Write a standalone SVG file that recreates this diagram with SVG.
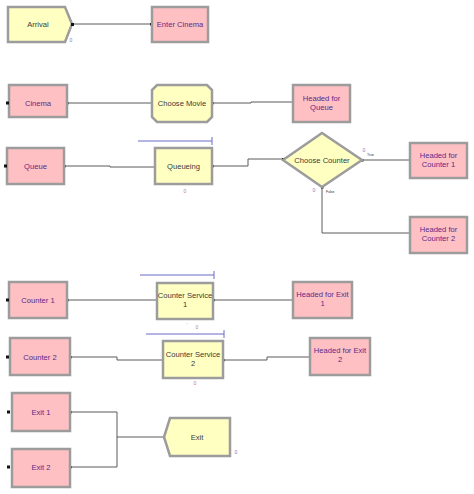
<svg xmlns="http://www.w3.org/2000/svg" width="474" height="494" viewBox="0 0 474 494">
<defs>
<style>
.pk{fill:#ffc0c4;stroke:#9c9c9c;stroke-width:2.5}
.yl{fill:#ffffc2;stroke:#9c9c9c;stroke-width:2.5}
.tp{font-family:"Liberation Sans",Arial,sans-serif;font-size:7.6px;fill:#5a2a86;text-anchor:middle}
.ty{font-family:"Liberation Sans",Arial,sans-serif;font-size:7.6px;fill:#3a3a3a;text-anchor:middle}
.cn{fill:none;stroke:#5a5a5a;stroke-width:1}
.qb{fill:none;stroke:#6a6ac8;stroke-width:1}
.dot{fill:#111}
.cnt{font-family:"Liberation Sans",Arial,sans-serif;font-size:5px;fill:#7a7ab8;text-anchor:middle}
.cq{font-family:"Liberation Sans",Arial,sans-serif;font-size:5px;fill:#c87878;text-anchor:middle}
.lb{font-family:"Liberation Sans",Arial,sans-serif;font-size:3.5px;fill:#333}
</style>
<marker id="sq" viewBox="0 0 4 4" refX="2" refY="2" markerWidth="3" markerHeight="3" markerUnits="userSpaceOnUse">
<rect width="4" height="4" fill="#111"/>
</marker>
</defs>
<rect width="474" height="494" fill="#ffffff"/>

<g id="connectors">
<path class="cn" d="M72,24 H151" marker-end="url(#sq)"/>
<path class="cn" d="M67,103 H152" marker-start="url(#sq)" marker-end="url(#sq)"/>
<path class="cn" d="M212,103 H251 V102 H293" marker-start="url(#sq)" marker-end="url(#sq)"/>
<path class="cn" d="M64,166 H110 V167 H155" marker-start="url(#sq)" marker-end="url(#sq)"/>
<path class="cn" d="M212,166 H248 V159 H283" marker-start="url(#sq)" marker-end="url(#sq)"/>
<path class="cn" d="M362,160 H410" marker-start="url(#sq)" marker-end="url(#sq)"/>
<path class="cn" d="M322,187 V233 H410" marker-start="url(#sq)" marker-end="url(#sq)"/>
<path class="cn" d="M67,300 H157" marker-start="url(#sq)" marker-end="url(#sq)"/>
<path class="cn" d="M213,300 H293" marker-start="url(#sq)" marker-end="url(#sq)"/>
<path class="cn" d="M70,357 H117 V360 H163" marker-start="url(#sq)" marker-end="url(#sq)"/>
<path class="cn" d="M223,360 H267 V357 H310" marker-start="url(#sq)" marker-end="url(#sq)"/>
<path class="cn" d="M70,412 H117 V437 H164" marker-start="url(#sq)" marker-end="url(#sq)"/>
<path class="cn" d="M70,467 H117 V437" marker-start="url(#sq)"/>
</g>

<g id="arrival">
<polygon class="yl" points="8,7 65,7 72,24 65,42 8,42"/>
<text class="ty" x="38" y="27">Arrival</text>
<rect class="dot" x="71" y="23" width="3" height="3"/>
<text class="cnt" x="71" y="42">0</text>
</g>
<g id="enter-cinema">
<rect class="pk" x="152" y="7" width="56" height="35"/>
<text class="tp" x="180" y="27">Enter Cinema</text>
</g>

<g id="cinema">
<rect class="pk" x="9" y="85" width="58" height="32"/>
<text class="tp" x="38" y="106">Cinema</text>
<rect class="dot" x="6" y="101.5" width="3" height="3"/>
</g>
<g id="choose-movie">
<polygon class="yl" points="157,85 207,85 212,90 212,117 207,122 157,122 152,117 152,90"/>
<text class="ty" x="182" y="106">Choose Movie</text>
</g>
<g id="headed-for-queue">
<rect class="pk" x="293" y="85" width="57" height="37"/>
<text class="tp" x="321.5" y="101">Headed for</text>
<text class="tp" x="321.5" y="110">Queue</text>
</g>

<g id="queue">
<rect class="pk" x="7" y="148" width="57" height="36"/>
<text class="tp" x="35.5" y="169">Queue</text>
<rect class="dot" x="4" y="164.5" width="3" height="3"/>
</g>
<g id="queueing">
<path class="qb" d="M138,141 H212 M212,137 V145"/>
<rect class="yl" x="155" y="148" width="57" height="36"/>
<text class="ty" x="183.5" y="169">Queueing</text>
<text class="cq" x="185" y="193">0</text>
</g>
<g id="choose-counter">
<polygon class="yl" points="283,160 322,133 362,160 322,187"/>
<text class="ty" x="322" y="163">Choose Counter</text>
<text class="cnt" x="364" y="152">0</text>
<text class="lb" x="367" y="156">True</text>
<text class="cnt" x="314" y="192">0</text>
<text class="lb" x="326" y="193">False</text>
</g>
<g id="headed-for-counter-1">
<rect class="pk" x="410" y="143" width="57" height="35"/>
<text class="tp" x="438.5" y="158">Headed for</text>
<text class="tp" x="438.5" y="167">Counter 1</text>
</g>
<g id="headed-for-counter-2">
<rect class="pk" x="410" y="217" width="57" height="36"/>
<text class="tp" x="438.5" y="232">Headed for</text>
<text class="tp" x="438.5" y="241">Counter 2</text>
</g>

<g id="counter-1">
<rect class="pk" x="9" y="282" width="58" height="36"/>
<text class="tp" x="38" y="303">Counter 1</text>
<rect class="dot" x="6" y="298.5" width="3" height="3"/>
</g>
<g id="counter-service-1">
<path class="qb" d="M140,275 H214 M214,271 V279"/>
<rect class="yl" x="157" y="283" width="56" height="36"/>
<text class="ty" x="185" y="298">Counter Service</text>
<text class="ty" x="185" y="307">1</text>
<text class="cq" x="187" y="327">'</text>
<text class="cq" x="197" y="329">0</text>
</g>
<g id="headed-for-exit-1">
<rect class="pk" x="293" y="282" width="59" height="36"/>
<text class="tp" x="322.5" y="297">Headed for Exit</text>
<text class="tp" x="322.5" y="306">1</text>
</g>

<g id="counter-2">
<rect class="pk" x="10" y="338" width="60" height="37"/>
<text class="tp" x="40" y="360">Counter 2</text>
<rect class="dot" x="6" y="355.5" width="3" height="3"/>
</g>
<g id="counter-service-2">
<path class="qb" d="M146,334 H224 M224,330 V338"/>
<rect class="yl" x="163" y="341" width="60" height="37"/>
<text class="ty" x="193" y="357">Counter Service</text>
<text class="ty" x="193" y="366">2</text>
<text class="cq" x="195" y="385">0</text>
</g>
<g id="headed-for-exit-2">
<rect class="pk" x="310" y="338" width="60" height="37"/>
<text class="tp" x="340" y="353">Headed for Exit</text>
<text class="tp" x="340" y="362">2</text>
</g>

<g id="exit-1">
<rect class="pk" x="12" y="393" width="58" height="38"/>
<text class="tp" x="41" y="415">Exit 1</text>
<rect class="dot" x="7" y="410.5" width="3" height="3"/>
</g>
<g id="exit-2">
<rect class="pk" x="12" y="449" width="58" height="38"/>
<text class="tp" x="41" y="470">Exit 2</text>
<rect class="dot" x="7" y="465.5" width="3" height="3"/>
</g>
<g id="exit">
<polygon class="yl" points="170,418 230,418 230,456 170,456 164,437"/>
<text class="ty" x="197" y="440">Exit</text>
<text class="cnt" x="236" y="454">0</text>
</g>
</svg>
